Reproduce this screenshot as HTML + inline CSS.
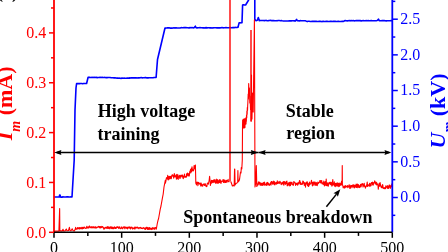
<!DOCTYPE html>
<html><head><meta charset="utf-8"><style>
html,body{margin:0;padding:0;background:#fff;}
body{width:448px;height:252px;overflow:hidden;}
svg{display:block;}
text{font-family:"Liberation Serif","Times New Roman",serif;}
.tl{font-size:16px;}
.ann{font-size:18px;font-weight:bold;}
.lab{font-size:22px;font-weight:bold;}
</style></head><body>
<svg width="448" height="252" viewBox="0 0 448 252">
<rect width="448" height="252" fill="#fff"/>
<!-- (a) label tail -->
<text x="-3.0" y="-2.2" font-size="18" font-weight="bold" fill="#000" font-family="Liberation Serif, serif">(a)</text>
<!-- data -->
<polyline points="54.00,197.00 59.30,197.00 59.60,195.00 60.10,195.00 60.40,197.00 61.00,197.09 62.00,197.10 63.00,196.91 64.00,196.93 65.00,197.05 66.00,197.07 67.00,196.85 68.00,196.86 69.00,196.95 70.00,197.03 71.00,196.88 72.00,196.94 74.20,160.00 75.00,110.00 76.00,88.00 76.60,83.50 76.60,83.50 77.60,83.63 78.60,83.60 79.60,83.65 80.60,83.57 81.60,83.57 82.60,83.74 83.60,83.43 84.60,83.56 85.60,83.56 86.60,83.44 88.10,77.30 88.10,77.44 89.10,77.22 90.10,77.39 91.10,77.48 92.10,77.33 93.10,77.43 94.10,77.18 95.10,77.49 96.10,77.34 97.10,77.62 98.10,77.50 99.10,77.56 100.10,77.28 101.10,77.54 102.10,77.34 103.10,77.56 104.10,77.42 105.10,77.45 106.10,77.60 107.10,77.58 108.10,77.51 109.10,77.47 110.10,77.52 111.10,77.70 112.10,77.69 113.10,77.68 114.10,77.90 115.10,77.91 116.10,77.98 117.10,78.14 118.10,78.17 119.10,78.03 120.10,78.18 121.10,78.36 122.10,78.07 123.10,78.26 124.10,78.17 125.10,78.26 126.10,78.20 127.10,78.13 128.10,78.12 129.10,77.91 130.10,78.09 131.10,77.85 132.10,77.84 133.10,77.92 134.10,77.89 135.10,77.87 136.10,77.82 137.10,78.04 138.10,77.90 139.10,77.88 140.10,77.73 141.10,77.64 142.10,77.84 143.10,77.80 144.10,77.68 145.10,77.58 146.10,77.66 147.10,77.89 148.10,77.90 149.10,77.75 150.10,77.77 151.10,77.71 152.10,77.79 153.10,77.70 154.10,77.44 155.10,77.43 156.10,77.47 157.50,59.50 165.00,28.00 165.00,28.06 166.00,28.08 167.00,27.92 168.00,27.88 169.00,27.76 170.00,28.08 171.00,27.97 172.00,28.09 173.00,27.98 174.00,27.82 175.00,28.10 176.00,27.70 177.00,27.96 178.00,27.99 179.00,27.95 180.00,28.03 181.00,27.78 182.00,27.67 183.00,27.79 184.00,27.61 185.00,27.61 186.00,27.62 187.00,27.69 188.00,27.71 189.00,27.96 190.00,27.62 191.00,27.82 192.00,27.60 193.00,27.75 194.00,27.85 195.40,26.20 196.00,27.82 197.00,27.88 198.00,27.69 199.00,27.78 200.00,27.63 201.00,27.68 202.00,27.82 203.00,27.87 204.00,27.67 205.00,27.96 206.00,27.63 207.00,27.89 208.00,27.76 209.00,27.70 210.00,27.88 211.00,27.75 212.00,27.99 213.00,27.84 214.00,27.77 215.00,27.82 216.00,27.74 217.00,27.91 218.00,27.85 219.00,27.71 220.00,27.88 221.00,27.82 222.00,27.63 223.00,27.83 224.00,27.82 225.00,27.70 226.00,27.49 227.00,27.70 228.00,27.70 229.00,27.72 230.00,27.43 231.00,27.64 232.00,27.70 233.00,27.41 234.00,27.63 235.00,27.42 236.00,27.43 237.00,27.41 238.00,27.24 239.10,22.90 242.00,22.60 242.60,5.00 242.60,5.19 243.60,4.82 244.60,5.05 245.60,4.99 248.60,0.00 249.50,-6.00 254.80,-6.00 254.80,19.40 256.00,20.60 257.40,20.30 258.30,17.60 259.30,20.60 259.30,20.78 260.30,20.56 261.30,20.45 262.30,20.53 263.30,20.50 264.30,20.58 265.30,20.48 266.30,20.42 267.30,20.71 268.30,20.62 269.30,20.48 270.30,20.36 271.30,20.58 272.30,20.56 273.30,20.59 274.30,20.66 275.30,20.70 276.30,20.70 277.30,20.67 278.30,20.47 279.30,20.55 280.30,20.68 281.30,20.61 282.30,20.80 283.30,20.96 284.30,21.07 285.30,20.94 286.30,21.05 287.30,21.01 288.30,21.02 289.30,20.74 290.30,20.90 291.30,20.86 292.30,20.80 293.30,20.76 294.30,20.84 295.30,21.08 296.60,19.40 297.20,20.74 298.20,20.69 299.20,20.89 300.20,20.66 301.20,20.82 302.20,20.82 303.20,20.77 304.20,20.69 305.20,20.68 306.20,21.12 307.20,21.60 308.20,21.26 309.20,21.30 310.20,21.48 311.20,21.49 312.20,21.24 313.20,21.33 314.20,21.37 315.20,21.23 316.20,21.35 317.20,21.57 318.20,21.57 319.20,21.40 320.20,21.30 321.20,21.44 322.20,21.59 323.20,21.30 324.20,21.53 325.20,21.57 326.20,21.38 327.20,21.42 328.20,21.51 329.20,21.50 330.20,21.39 331.20,21.27 332.20,21.44 333.20,21.32 334.20,21.37 335.20,21.34 336.20,21.57 337.20,21.54 338.20,21.22 339.20,21.55 340.20,21.49 341.20,21.57 342.20,21.31 343.20,21.41 344.20,21.04 345.20,20.59 346.20,20.82 347.20,20.88 348.20,20.76 349.20,20.54 350.20,20.84 351.20,20.54 352.20,20.77 353.20,20.57 354.20,20.83 355.20,20.79 356.20,20.62 357.20,20.64 358.20,20.63 359.20,20.52 360.20,20.65 361.20,20.90 362.20,20.77 363.20,20.54 364.20,20.70 365.20,20.74 366.20,20.60 367.20,20.75 368.20,20.54 369.20,20.70 370.20,20.82 371.20,20.52 372.20,20.81 373.20,20.80 374.20,20.74 375.20,20.69 376.20,20.80 377.20,20.53 378.60,19.20 379.20,20.62 380.20,20.74 381.20,20.82 382.20,20.65 383.20,20.59 384.20,20.60 385.20,20.71 386.20,20.88 387.20,20.68 388.20,20.71 389.20,20.69 390.20,20.77 391.20,20.64 392.20,20.66" fill="none" stroke="#0000ff" stroke-width="1.6" stroke-linejoin="round"/>
<g fill="none" stroke="#ff0000" stroke-width="1.1" stroke-linejoin="round"><polyline points="54.00,230.87 54.70,231.20 55.40,231.09 56.10,231.10 56.80,231.08 57.50,231.12 58.20,231.05 58.90,231.14 59.65,208.50 59.85,231.00 61.00,230.80 62.00,231.20 63.00,229.30 63.60,231.00 65.00,230.90 66.30,229.00 67.00,230.80 68.50,230.50 69.40,227.40 70.00,230.40 71.00,230.80 72.20,228.80 73.00,230.60 74.50,230.90 75.60,228.00 75.60,227.34 75.90,229.33 76.20,228.74 76.50,229.05 76.80,229.13 77.10,229.29 77.40,227.55 77.70,228.01 78.00,228.48 78.30,227.76 78.60,228.50 78.90,227.87 79.20,229.27 79.50,227.65 79.80,227.95 80.10,228.62 80.40,228.78 80.70,227.54 81.00,227.66 81.30,228.54 81.60,228.79 81.90,227.34 82.20,227.26 82.50,228.82 82.80,227.50 83.10,228.19 83.40,227.37 83.70,228.50 84.00,227.25 84.30,227.39 84.60,227.10 84.90,227.87 85.20,227.86 85.50,228.37 85.80,228.56 86.10,228.53 86.40,227.63 86.70,226.52 87.00,226.36 87.30,227.93 87.60,227.71 87.90,227.95 88.20,227.44 88.50,226.87 88.80,228.06 89.10,227.33 89.40,225.94 89.70,226.36 90.00,227.29 90.30,227.34 90.60,227.00 90.90,227.89 91.20,227.35 91.50,226.65 91.80,227.65 92.10,227.62 92.40,227.11 92.70,227.83 93.00,226.63 93.30,227.75 93.60,227.04 93.90,227.83 94.20,227.96 94.50,227.84 94.80,226.79 95.10,227.06 95.40,226.77 95.70,228.14 96.00,226.94 96.30,227.13 96.60,227.97 96.90,227.69 97.20,227.51 97.50,227.33 97.80,226.71 98.10,226.97 98.40,226.69 98.70,226.38 99.00,227.34 99.30,226.84 99.60,227.78 99.90,226.65 100.20,228.08 100.50,227.16 100.80,226.68 101.10,226.38 101.40,227.69 101.70,226.77 102.00,227.03 102.30,226.47 102.60,226.45 102.90,227.57 103.20,227.20 103.50,227.80 103.80,229.20 104.10,229.24 104.40,228.80 104.70,227.70 105.00,228.04 105.30,227.33 105.60,227.71 105.90,228.15 106.20,228.21 106.50,227.17 106.80,228.14 107.10,228.37 107.40,226.70 107.70,226.67 108.00,228.06 108.30,228.32 108.60,227.29 108.90,226.80 109.20,228.14 109.50,227.91 109.80,228.82 110.10,227.34 110.40,226.98 110.70,226.82 111.00,227.86 111.30,228.56 111.60,227.96 111.90,226.72 112.20,228.11 112.50,228.62 112.80,228.06 113.10,227.40 113.40,228.76 113.70,228.61 114.00,227.99 114.30,226.79 114.60,227.31 114.90,228.30 115.20,228.48 115.50,227.39 115.80,228.50 116.10,228.48 116.40,227.87 116.70,226.90 117.00,227.06 117.30,227.40 117.60,227.05 117.90,226.70 118.20,227.79 118.50,228.29 118.80,228.34 119.10,227.15 119.40,227.25 119.70,226.75 120.00,228.45 120.30,228.28 120.60,228.73 120.90,228.22 121.20,227.69 121.50,227.45 121.80,226.87 122.10,228.79 122.40,228.67 122.70,228.80 123.00,228.16 123.30,227.15 123.60,227.50 123.90,227.03 124.20,226.81 124.50,227.01 124.80,228.79 125.10,227.16 125.40,226.99 125.70,227.55 126.00,227.24 126.30,228.33 126.60,227.57 126.90,227.52 127.20,227.11 127.50,228.91 127.80,227.84 128.10,228.13 128.40,227.18 128.70,227.00 129.00,227.35 129.30,228.10 129.60,226.85 129.90,227.75 130.20,228.08 130.50,228.96 130.80,227.19 131.10,227.05 131.40,227.30 131.70,227.94 132.00,227.14 132.30,228.68 132.60,229.00 132.90,228.72 133.20,227.76 133.50,228.37 133.80,228.63 134.10,228.83 134.40,228.26 134.70,227.15 135.00,228.92 135.30,228.35 135.60,227.83 135.90,226.98 136.20,227.48 136.50,227.99 136.80,228.03 137.10,227.34 137.40,227.23 137.70,227.15 138.00,228.28 138.30,228.20 138.60,228.08 138.90,228.80 139.20,227.60 139.50,227.81 139.80,227.89 140.10,227.65 140.40,227.34 140.70,227.64 141.00,228.58 141.30,228.52 141.60,228.56 141.90,227.82 142.20,227.96 142.50,228.64 142.80,228.44 143.10,228.21 143.40,227.96 143.70,227.52 144.00,228.25 144.30,228.17 144.60,228.70 144.90,229.31 145.20,228.11 145.50,229.37 145.80,228.53 146.10,227.36 146.40,228.33 146.70,227.30 147.00,228.16 147.30,229.43 147.60,227.95 147.90,227.40 148.20,229.39 148.50,229.39 148.80,228.43 149.10,227.77 149.40,229.34 149.70,227.64 150.00,228.66 150.30,228.75 150.60,229.18 150.90,228.02 151.20,229.57 151.50,228.97 151.80,228.28 152.10,229.48 152.40,227.99 152.70,227.65 153.00,228.47 153.30,228.92 153.60,228.84 153.90,227.73 154.20,228.32 154.50,229.11 154.80,229.31 155.10,227.46 155.40,227.64 155.70,227.94 156.00,227.51 156.30,229.27 157.20,224.00 158.00,220.40 158.60,218.50 160.20,209.30 161.00,206.00 162.40,198.20 163.20,194.00 164.00,187.00 165.30,180.40 165.30,183.23 165.60,182.29 165.90,181.17 166.20,179.15 166.50,177.70 166.80,177.59 167.10,177.84 167.40,179.09 167.70,175.40 168.00,177.92 168.30,180.06 168.60,176.47 168.90,179.30 169.20,176.58 169.50,179.06 169.80,176.23 170.10,178.82 170.40,176.25 170.70,177.07 171.00,177.06 171.30,178.61 171.60,176.31 171.90,175.12 172.20,175.66 172.50,174.73 172.80,174.74 173.10,176.64 173.40,175.71 173.70,178.20 174.00,177.28 174.30,173.67 174.60,175.79 174.90,175.87 175.20,176.88 175.50,175.71 175.80,176.12 176.10,174.82 176.40,179.21 176.70,178.20 177.00,174.42 177.30,178.48 177.60,176.18 177.90,174.84 178.20,179.42 178.50,176.72 178.80,176.76 179.10,176.61 179.40,175.37 179.70,178.01 180.00,178.52 180.30,177.50 180.60,175.27 180.90,176.09 181.20,175.34 181.50,175.18 181.80,177.01 182.10,175.63 182.40,175.27 182.70,175.03 183.00,178.20 183.30,178.62 183.60,176.62 183.90,176.01 184.20,177.21 184.50,174.10 184.80,176.86 185.10,177.24 185.40,176.87 185.70,177.24 186.00,176.38 186.30,177.18 186.60,173.81 186.90,176.28 187.20,174.05 187.50,173.00 187.80,174.22 188.10,175.39 188.40,175.83 188.70,173.58 189.00,175.43 189.30,175.92 189.60,172.54 189.90,171.14 190.20,172.05 190.50,169.52 190.80,172.90 191.10,169.32 191.40,168.20 191.70,171.79 192.00,166.84 192.30,169.17 192.60,169.43 192.90,170.79 193.20,170.09 193.50,170.84 193.80,169.02 194.10,165.56 194.40,168.83 194.70,168.75 195.00,165.93 195.40,165.00 195.80,182.00 195.80,183.36 196.10,182.76 196.40,185.04 196.70,182.81 197.00,182.07 197.30,182.24 197.60,182.45 197.90,185.73 198.20,182.70 198.50,182.45 198.80,183.45 199.10,184.03 199.40,183.45 199.70,183.84 200.00,182.80 200.30,184.59 200.60,185.38 200.90,186.12 201.20,183.06 201.50,184.98 201.80,184.55 202.10,185.93 202.40,185.82 202.70,186.16 203.00,184.48 203.30,184.19 203.60,184.03 203.90,184.63 204.20,184.67 204.50,185.51 204.80,183.83 205.10,183.63 205.40,184.36 205.70,185.60 206.00,186.21 206.30,186.63 206.60,185.67 206.90,186.53 207.20,183.79 207.50,183.54 207.80,182.91 208.10,183.03 208.40,184.14 209.20,180.00 209.60,176.30 210.10,181.50 210.10,180.25 210.40,185.57 210.70,182.17 211.00,183.73 211.30,183.30 211.60,180.21 211.90,182.27 212.20,180.44 212.50,180.44 212.80,182.79 213.10,181.59 213.40,180.66 213.70,182.26 214.00,179.60 214.30,179.81 214.60,180.77 214.90,182.49 215.20,179.85 215.50,181.86 215.80,183.52 216.10,183.35 216.40,181.67 216.70,179.09 217.00,180.25 217.30,182.80 217.60,179.70 217.90,183.42 218.20,181.38 218.50,180.77 218.80,182.91 219.10,180.46 219.40,179.66 219.70,182.45 220.00,181.86 220.30,179.89 220.60,181.67 220.90,183.52 221.20,182.09 221.50,181.02 221.80,181.74 222.10,181.30 222.40,181.20 222.70,180.81 223.00,179.63 223.30,181.80 223.60,182.52 223.90,179.79 224.20,180.00 224.50,181.72 224.80,182.60 225.10,180.38 225.40,180.90 225.70,182.46 226.00,181.90 226.30,181.14 226.60,180.37 226.90,182.32 227.20,180.64 227.50,180.24 227.80,180.89 228.10,179.28 228.40,181.79 229.40,181.60"/><polyline points="230.60,181.60 231.00,182.00 232.40,186.00 233.40,185.20 234.20,186.00 234.55,169.00 234.75,169.00 235.10,185.00 236.00,183.50 237.00,183.00 237.70,182.00 237.90,170.50 238.10,182.00 239.00,181.00 239.60,179.00 240.50,172.00 241.00,173.00 241.30,167.50 241.80,169.00 242.30,160.00 242.50,129.00 242.50,127.88 242.65,120.13 242.85,128.07 243.00,120.44 243.20,127.83 243.35,119.05 243.55,127.98 243.70,119.21 243.90,127.41 244.05,121.30 244.25,128.02 244.40,119.56 244.60,126.48 244.75,118.60 244.95,127.49 245.10,119.16 245.30,124.52 245.45,118.93 245.65,123.99 245.80,118.17 246.00,123.97 246.15,117.39 246.35,121.16 246.50,115.14 246.75,117.68 246.90,111.13 247.15,114.13 247.30,107.48 247.55,110.26 247.70,104.96 247.80,104.00 248.20,94.00 248.40,99.00 248.70,83.60 249.10,96.00 249.40,88.00 249.80,103.00 250.10,96.00 250.40,106.00 250.60,110.00"/><polyline points="251.30,121.60 251.50,75.00 251.70,119.00 252.00,119.00 252.40,93.00 253.20,112.00 254.40,19.90 255.00,187.00 255.60,184.00 256.30,165.50 256.80,186.50 257.50,184.00 257.50,185.28 257.80,184.47 258.10,184.82 258.40,181.93 258.70,183.98 259.00,181.92 259.30,183.16 259.60,182.20 259.90,185.06 260.20,185.12 260.50,184.16 260.80,182.74 261.10,185.39 261.40,185.03 261.70,185.05 262.00,183.17 262.30,183.12 262.60,185.43 262.90,184.92 263.20,184.59 263.50,182.53 263.80,184.87 264.10,182.57 264.40,182.11 264.70,185.15 265.00,184.98 265.30,184.77 265.60,184.33 265.90,184.89 266.20,182.72 266.50,184.64 266.80,185.55 267.10,184.98 267.40,182.38 267.70,183.28 268.00,182.82 268.30,184.69 268.60,183.62 268.90,185.08 269.20,184.41 269.50,185.31 269.80,183.92 270.10,183.62 270.40,184.42 270.70,182.20 271.00,185.16 271.30,181.55 271.60,182.43 271.90,181.44 272.20,182.93 272.50,184.12 272.80,183.28 273.10,181.92 273.40,183.52 273.70,181.02 274.00,184.42 274.30,182.75 274.60,181.83 274.90,184.89 275.20,184.16 275.50,182.89 275.80,183.62 276.10,182.64 276.40,183.80 276.70,184.06 277.00,182.86 277.30,180.82 277.60,183.50 277.90,182.34 278.20,183.06 278.50,183.07 278.80,181.69 279.10,183.58 279.40,183.15 279.70,182.24 280.00,181.25 280.30,182.48 280.60,182.97 280.90,182.91 281.20,184.61 281.50,184.34 281.80,183.76 282.10,182.36 282.40,183.68 282.70,183.44 283.00,184.07 283.30,181.60 283.60,184.10 283.90,185.29 284.20,181.56 284.50,181.70 284.80,183.26 285.10,182.05 285.40,184.41 285.70,182.76 286.00,183.80 286.30,181.50 286.60,182.94 286.90,181.11 287.20,185.71 287.50,185.69 287.80,184.98 288.10,183.62 288.40,182.75 288.70,184.86 289.00,184.07 289.30,185.99 289.60,182.31 289.90,182.46 290.20,184.07 290.50,185.73 290.80,182.17 291.10,183.15 291.40,184.18 291.70,182.30 292.00,182.34 292.30,183.82 292.60,184.77 292.90,184.70 293.20,185.32 293.50,184.97 293.80,181.60 294.10,182.05 294.40,182.08 294.70,182.69 295.00,182.73 295.30,183.63 295.60,185.46 295.90,183.10 296.20,184.35 296.50,183.99 296.80,183.37 297.10,184.53 297.40,185.05 297.70,185.10 298.00,182.52 298.30,183.23 298.60,183.02 298.90,184.04 299.20,182.07 299.50,180.72 299.80,180.51 300.10,182.72 300.40,184.45 300.70,182.27 301.00,183.91 301.30,184.07 301.60,184.45 301.90,184.20 302.20,183.40 302.50,184.30 302.80,181.03 303.10,181.47 303.40,181.36 303.70,183.42 304.00,182.80 304.30,185.35 304.60,184.63 304.90,182.61 305.20,184.46 305.50,187.19 305.80,183.25 306.10,184.61 306.40,182.11 306.70,183.49 307.00,182.88 307.30,181.90 307.60,185.67 307.90,185.19 308.20,183.48 308.50,186.55 308.80,185.94 309.10,185.38 309.40,182.12 309.70,183.64 310.00,184.46 310.30,183.87 310.60,183.13 310.90,183.03 311.20,181.62 311.50,180.38 311.80,183.56 312.10,183.93 312.40,185.91 312.70,182.27 313.00,182.81 313.30,185.14 313.60,181.94 313.90,182.19 314.20,182.06 314.50,182.89 314.80,185.08 315.10,182.07 315.40,182.95 315.70,184.92 316.00,185.36 316.30,182.52 316.60,183.57 316.90,183.58 317.20,185.72 317.50,184.24 317.80,182.07 318.10,183.72 318.40,183.28 318.70,183.19 319.00,182.20 319.30,182.27 319.60,182.17 319.90,180.47 320.20,182.58 320.50,180.46 320.80,182.97 321.10,182.46 321.40,181.27 321.70,180.55 322.00,183.80 322.30,183.08 322.60,182.97 322.90,184.15 323.20,182.46 323.50,184.41 323.80,181.16 324.10,182.45 324.40,186.01 324.70,182.78 325.00,182.40 325.30,181.69 325.60,185.16 325.90,185.49 326.20,179.03 326.50,185.55 326.80,183.93 327.10,185.84 327.40,182.84 327.70,184.84 328.00,183.77 328.30,186.24 328.60,184.14 328.90,182.96 329.20,182.24 329.50,183.14 329.80,183.58 330.10,184.15 330.40,182.17 330.70,184.60 331.00,184.64 331.30,182.39 331.60,184.86 331.90,186.12 332.20,183.59 332.50,182.43 332.80,179.61 333.10,185.13 333.40,184.55 333.70,183.26 334.00,184.54 334.30,181.84 334.60,185.94 334.90,184.97 335.20,186.66 335.50,183.42 335.80,185.45 336.10,186.04 336.40,184.02 336.70,183.19 337.00,185.85 337.30,182.90 337.60,183.25 337.90,184.37 338.20,186.79 338.50,183.40 338.80,183.37 339.10,185.45 339.40,186.32 339.70,184.51 340.00,182.93 340.30,185.13 340.60,183.90 340.90,185.26 341.20,185.24 341.50,181.42 342.10,184.50 342.25,165.50 342.40,184.50 342.90,186.02 343.20,187.93 343.50,186.79 343.80,187.21 344.10,186.37 344.40,187.37 344.70,188.14 345.00,186.03 345.30,185.45 345.60,187.29 345.90,186.23 346.20,186.18 346.50,186.60 346.80,187.04 347.10,186.66 347.40,185.48 347.70,187.11 348.00,187.64 348.30,186.75 348.60,185.94 348.90,185.62 349.20,184.70 349.50,186.21 349.80,188.55 350.10,186.58 350.40,188.12 350.70,185.19 351.00,187.80 351.30,185.63 351.60,186.66 351.90,185.66 352.20,185.71 352.50,185.10 352.80,187.01 353.10,187.77 353.40,184.89 353.70,186.58 354.00,184.90 354.30,185.91 354.60,187.96 354.90,185.53 355.20,186.17 355.50,186.99 355.80,185.40 356.10,184.05 356.40,187.23 356.70,187.41 357.00,185.63 357.30,184.01 357.60,184.54 357.90,187.59 358.20,187.34 358.50,184.67 358.80,185.33 359.10,186.46 359.40,187.41 359.70,187.57 360.00,185.55 360.30,186.31 360.60,184.36 360.90,186.84 361.20,186.48 361.50,184.25 361.80,184.78 362.10,183.46 362.40,184.44 362.70,183.88 363.00,187.01 363.30,185.62 363.60,186.03 363.90,184.36 364.20,183.26 364.50,186.18 364.80,186.72 365.10,186.25 365.40,188.23 365.70,187.13 366.00,186.16 366.30,185.47 366.60,186.20 366.90,184.46 367.20,182.05 367.50,186.51 367.80,184.40 368.10,184.63 368.40,185.70 368.70,185.31 369.00,185.51 369.30,186.15 369.60,183.22 369.90,183.48 370.20,186.12 370.50,184.63 370.80,183.83 371.10,185.69 371.40,182.46 371.70,183.22 372.00,182.92 372.30,182.12 372.60,184.98 372.90,182.59 373.20,185.18 373.50,182.85 373.80,184.00 374.10,182.57 374.40,182.46 374.70,180.80 375.00,182.32 375.30,183.15 375.60,184.09 375.90,181.95 376.20,182.42 376.50,185.03 376.80,182.85 377.10,184.75 377.40,184.07 377.70,184.13 378.00,185.68 378.30,189.15 378.60,186.75 378.90,186.47 379.20,183.23 379.50,186.16 379.80,185.70 380.10,182.67 380.40,184.23 380.70,185.82 381.00,186.87 381.30,187.47 381.60,187.27 381.90,187.80 382.20,185.46 382.50,184.64 382.80,184.86 383.10,188.11 383.40,187.75 383.70,188.40 384.00,187.96 384.30,188.75 384.60,187.61 384.90,187.88 385.20,188.30 385.50,188.58 385.80,185.86 386.10,187.92 386.40,187.15 386.70,186.57 387.00,186.56 387.30,185.62 387.60,188.51 387.90,186.69 388.20,186.35 388.50,188.45 388.80,187.80 389.10,185.15 389.40,187.01 389.70,185.02 390.00,186.65 390.30,188.36 390.60,186.95 390.90,186.13 391.20,185.19 391.50,187.02 391.80,183.59"/><line x1="230.0" y1="181.6" x2="230.0" y2="-6" stroke-width="1.4"/><line x1="251.0" y1="121.6" x2="251.0" y2="30" stroke-width="1.4"/></g>
<!-- axes -->
<g stroke-width="1.5" shape-rendering="auto">
<line x1="54.00" y1="232.30" x2="54.00" y2="237.80" stroke="#000"/>
<line x1="121.66" y1="232.30" x2="121.66" y2="237.80" stroke="#000"/>
<line x1="189.32" y1="232.30" x2="189.32" y2="237.80" stroke="#000"/>
<line x1="256.98" y1="232.30" x2="256.98" y2="237.80" stroke="#000"/>
<line x1="324.64" y1="232.30" x2="324.64" y2="237.80" stroke="#000"/>
<line x1="392.30" y1="232.30" x2="392.30" y2="237.80" stroke="#000"/>
<line x1="87.83" y1="232.30" x2="87.83" y2="235.90" stroke="#000"/>
<line x1="155.49" y1="232.30" x2="155.49" y2="235.90" stroke="#000"/>
<line x1="223.15" y1="232.30" x2="223.15" y2="235.90" stroke="#000"/>
<line x1="290.81" y1="232.30" x2="290.81" y2="235.90" stroke="#000"/>
<line x1="358.47" y1="232.30" x2="358.47" y2="235.90" stroke="#000"/>
<line x1="49.00" y1="232.30" x2="54.00" y2="232.30" stroke="#f00"/>
<line x1="49.00" y1="182.45" x2="54.00" y2="182.45" stroke="#f00"/>
<line x1="49.00" y1="132.60" x2="54.00" y2="132.60" stroke="#f00"/>
<line x1="49.00" y1="82.75" x2="54.00" y2="82.75" stroke="#f00"/>
<line x1="49.00" y1="32.90" x2="54.00" y2="32.90" stroke="#f00"/>
<line x1="51.00" y1="207.38" x2="54.00" y2="207.38" stroke="#f00"/>
<line x1="51.00" y1="157.53" x2="54.00" y2="157.53" stroke="#f00"/>
<line x1="51.00" y1="107.68" x2="54.00" y2="107.68" stroke="#f00"/>
<line x1="51.00" y1="57.82" x2="54.00" y2="57.82" stroke="#f00"/>
<line x1="51.00" y1="7.97" x2="54.00" y2="7.97" stroke="#f00"/>
<line x1="392.30" y1="197.50" x2="397.80" y2="197.50" stroke="#00f"/>
<line x1="392.30" y1="161.84" x2="397.80" y2="161.84" stroke="#00f"/>
<line x1="392.30" y1="126.18" x2="397.80" y2="126.18" stroke="#00f"/>
<line x1="392.30" y1="90.52" x2="397.80" y2="90.52" stroke="#00f"/>
<line x1="392.30" y1="54.86" x2="397.80" y2="54.86" stroke="#00f"/>
<line x1="392.30" y1="19.20" x2="397.80" y2="19.20" stroke="#00f"/>
<line x1="392.30" y1="215.33" x2="395.30" y2="215.33" stroke="#00f"/>
<line x1="392.30" y1="179.67" x2="395.30" y2="179.67" stroke="#00f"/>
<line x1="392.30" y1="144.01" x2="395.30" y2="144.01" stroke="#00f"/>
<line x1="392.30" y1="108.35" x2="395.30" y2="108.35" stroke="#00f"/>
<line x1="392.30" y1="72.69" x2="395.30" y2="72.69" stroke="#00f"/>
<line x1="392.30" y1="37.03" x2="395.30" y2="37.03" stroke="#00f"/>
<line x1="392.30" y1="1.37" x2="395.30" y2="1.37" stroke="#00f"/>
</g>
<line x1="54.0" y1="0" x2="54.0" y2="232.3" stroke="#f00" stroke-width="1.8"/>
<line x1="392.3" y1="0" x2="392.3" y2="232.3" stroke="#00f" stroke-width="1.8"/>
<line x1="54.0" y1="232.3" x2="392.3" y2="232.3" stroke="#000" stroke-width="1.5"/>
<g class="tl">
<text x="54.00" y="253.3" text-anchor="middle" fill="#000">0</text>
<text x="121.66" y="253.3" text-anchor="middle" fill="#000">100</text>
<text x="189.32" y="253.3" text-anchor="middle" fill="#000">200</text>
<text x="256.98" y="253.3" text-anchor="middle" fill="#000">300</text>
<text x="324.64" y="253.3" text-anchor="middle" fill="#000">400</text>
<text x="392.30" y="253.3" text-anchor="middle" fill="#000">500</text>
<text x="46.3" y="237.50" text-anchor="end" fill="#f00">0.0</text>
<text x="46.3" y="187.65" text-anchor="end" fill="#f00">0.1</text>
<text x="46.3" y="137.80" text-anchor="end" fill="#f00">0.2</text>
<text x="46.3" y="87.95" text-anchor="end" fill="#f00">0.3</text>
<text x="46.3" y="38.10" text-anchor="end" fill="#f00">0.4</text>
<text x="400.2" y="202.30" fill="#00f">0.0</text>
<text x="400.2" y="166.64" fill="#00f">0.5</text>
<text x="400.2" y="130.98" fill="#00f">1.0</text>
<text x="400.2" y="95.32" fill="#00f">1.5</text>
<text x="400.2" y="59.66" fill="#00f">2.0</text>
<text x="400.2" y="24.00" fill="#00f">2.5</text>
</g>
<!-- arrows -->
<g stroke="#000" stroke-width="1.5" fill="#000">
<line x1="57.0" y1="152.5" x2="258.4" y2="152.5"/>
<line x1="258.6" y1="152.5" x2="389.3" y2="152.5"/>
<path d="M54.2,152.5 L61.4,150.1 L60.6,152.5 L61.4,154.9 Z" stroke="none"/>
<path d="M258.6,152.5 L250.8,150.1 L251.6,152.5 L250.8,154.9 Z" stroke="none"/>
<path d="M258.4,152.5 L265.6,150.1 L264.8,152.5 L265.6,154.9 Z" stroke="none"/>
<path d="M391.3,152.5 L384.5,150.1 L385.3,152.5 L384.5,154.9 Z" stroke="none"/>
<line x1="326.4" y1="206.8" x2="336.5" y2="194.1"/>
<path d="M340.3,189.2 L333.45,193.36 L336.46,194.07 L337.85,196.84 Z" stroke="none"/>
</g>
<!-- annotations -->
<g class="ann" fill="#000">
<text x="97.8" y="117.2">High voltage</text>
<text x="97.5" y="140.1">training</text>
<text x="285.8" y="117.1">Stable</text>
<text x="286.3" y="138.8">region</text>
<text x="183.2" y="222.6">Spontaneous breakdown</text>
</g>
<!-- axis titles -->
<text class="lab" fill="#f00" transform="translate(12,140.3) rotate(-90)"><tspan font-style="italic">I</tspan><tspan font-size="14" font-style="italic" dy="7.5">m</tspan><tspan dy="-7.5"> (mA)</tspan></text>
<text class="lab" fill="#00f" transform="translate(445,148.5) rotate(-90)"><tspan font-style="italic">U</tspan><tspan font-size="14" font-style="italic" dy="7.5">m</tspan><tspan dy="-7.5"> (kV)</tspan></text>
</svg>
</body></html>
